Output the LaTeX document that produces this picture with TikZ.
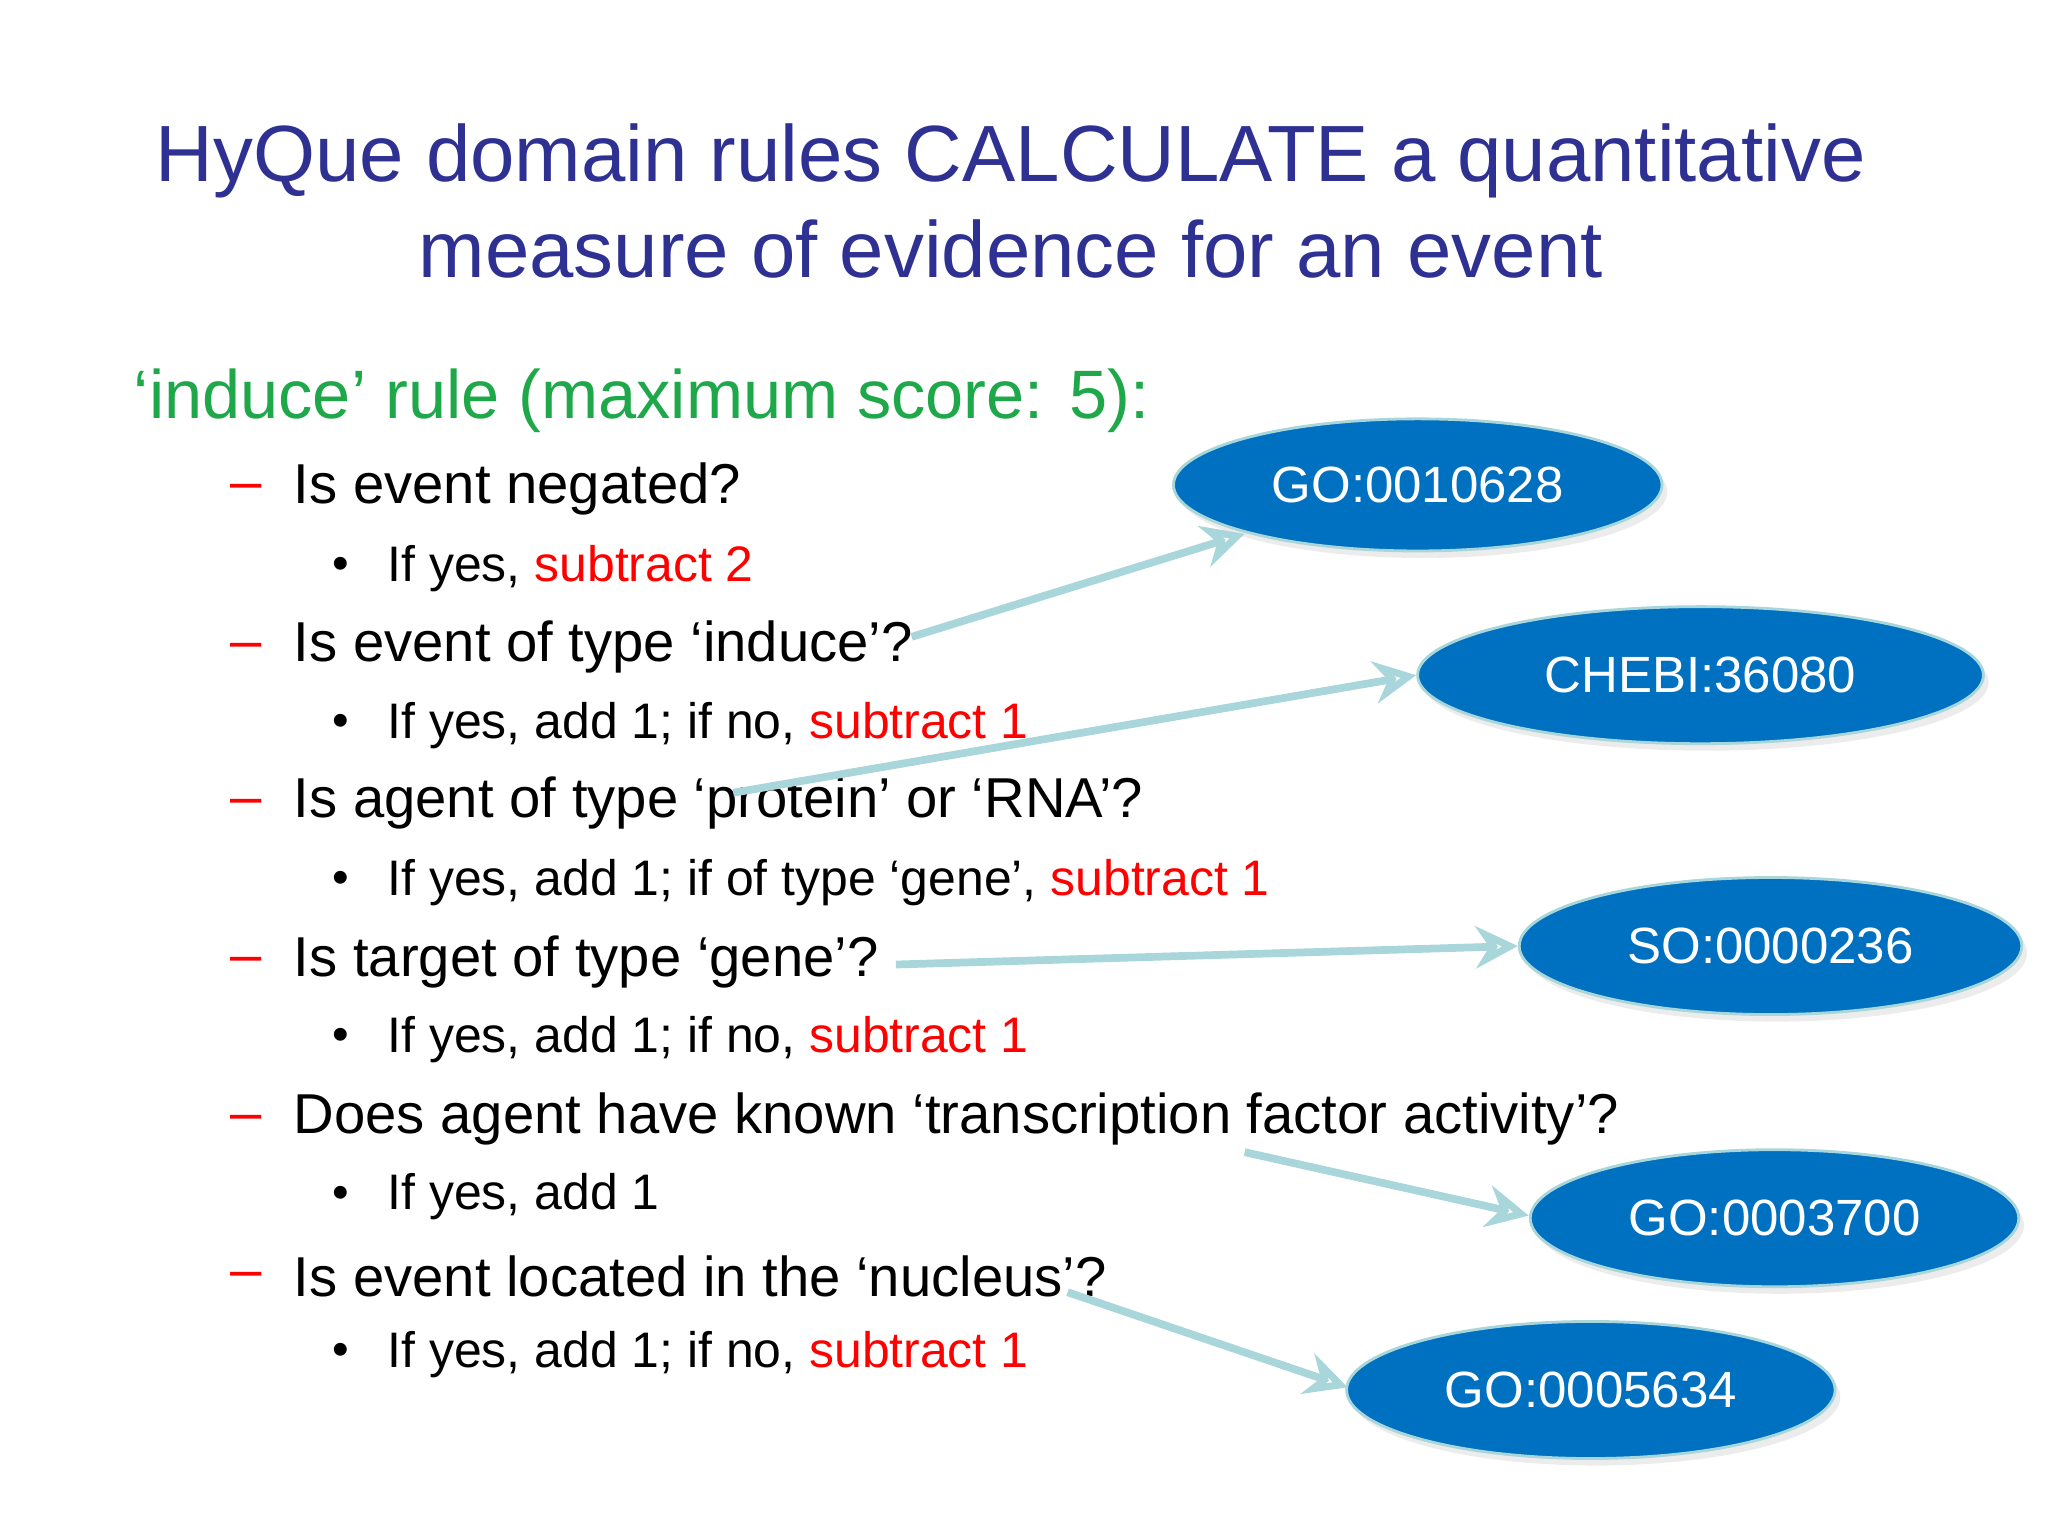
\documentclass[tikz,border=0pt]{standalone}
\usepackage{fontspec}
\setmainfont{Liberation Sans}
\usetikzlibrary{shapes.geometric,arrows.meta,shadows}
\definecolor{ttl}{RGB}{46,49,146}
\definecolor{grn}{RGB}{30,168,74}
\definecolor{ell}{RGB}{0,112,192}
\definecolor{arr}{RGB}{168,214,218}
\begin{document}
\begin{tikzpicture}[x=0.013213cm,y=-0.013213cm,
  q/.style={anchor=west,font=\fontsize{16}{18}\selectfont},
  sb/.style={anchor=west,font=\fontsize{14.2}{16}\selectfont},
  dashm/.style={anchor=west,text=red,font=\fontsize{16}{18}\selectfont},
  bul/.style={anchor=center,font=\fontsize{13.5}{16}\selectfont},
  ov/.style={ellipse,inner sep=0pt,fill=ell,draw=arr,line width=0.8pt,text=white,drop shadow={shadow xshift=1.5pt,shadow yshift=-2pt,opacity=0.15},font=\fontsize{14.5}{16}\selectfont},
  con/.style={draw=arr,line width=2.2pt,-{Stealth[length=12pt,width=12pt,open]}}]
\useasboundingbox (0,0) rectangle (1550,1162);
\node[text=ttl,font=\fontsize{22.7}{27.5}\selectfont,align=center] (title) at (765,152) {HyQue domain rules CALCULATE a quantitative\\measure of evidence for an event};
\node[anchor=west,text=grn,font=\fontsize{19.5}{22}\selectfont] (head) at (92,303) {‘induce’ rule (maximum score: 5):};
\foreach \y/\t [count=\i] in {370/{Is event negated?},490/{Is event of type ‘induce’?},608/{Is agent of type ‘protein’ or ‘RNA’?},728/{Is target of type ‘gene’?},847/{Does agent have known ‘transcription factor activity’?},966/{Is event located in the ‘nucleus’?}}{
  \node[dashm] (d\i) at (165,\y+3) {–};
  \node[q] (q\i) at (213,\y) {\t};
}
\foreach \y/\t [count=\i] in {430/{If yes, \textcolor{red}{subtract 2}},549/{If yes, add 1; if no, \textcolor{red}{subtract 1}},668/{If yes, add 1; if of type ‘gene’, \textcolor{red}{subtract 1}},787/{If yes, add 1; if no, \textcolor{red}{subtract 1}},906/{If yes, add 1},1025/{If yes, add 1; if no, \textcolor{red}{subtract 1}}}{
  \node[bul] (b\i) at (258,\y) {•};
  \node[sb] (s\i) at (284,\y) {\t};
}
\node[ov,minimum width=139pt,minimum height=37.6pt] (e1) at (1073,367) {GO:0010628};
\node[ov,minimum width=161pt,minimum height=39pt] (e2) at (1287,511) {CHEBI:36080};
\node[ov,minimum width=143pt,minimum height=39pt] (e3) at (1340,716) {SO:0000236};
\node[ov,minimum width=139pt,minimum height=39pt] (e4) at (1343,922) {GO:0003700};
\node[ov,minimum width=139pt,minimum height=39pt] (e5) at (1204,1052) {GO:0005634};
\coordinate (c1) at (690,482);
\coordinate (c2) at (555,600);
\coordinate (c3) at (678,730);
\coordinate (c4) at (942,872);
\coordinate (c5) at (808,978);
\draw[con] (c1) -- (942,404);
\draw[con] (c2) -- (e2.west);
\draw[con] (c3) -- (e3.west);
\draw[con] (c4) -- (1157,920);
\draw[con] (c5) -- (1020,1050);
\end{tikzpicture}
\end{document}
